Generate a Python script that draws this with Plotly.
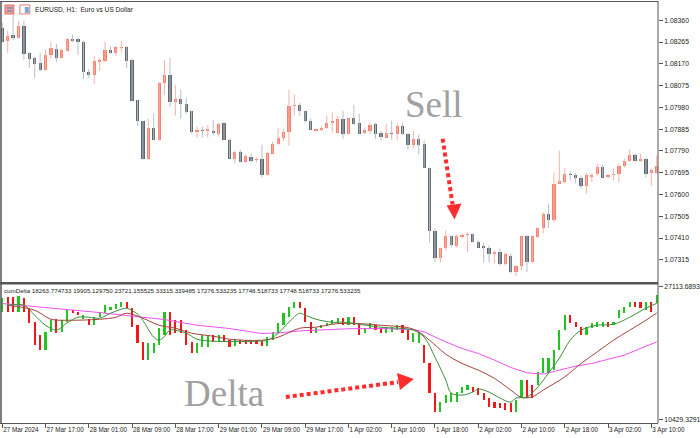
import plotly.graph_objects as go

# ---------------- data ----------------
price_open = [1.08326, 1.08270, 1.08296, 1.08283, 1.08335, 1.08218, 1.08196, 1.08174, 1.08144, 1.08209,
              1.08235, 1.08196, 1.08226, 1.08279, 1.08279, 1.08265, 1.08135, 1.08122, 1.08178, 1.08183,
              1.08231, 1.08218, 1.08239, 1.08244, 1.08187, 1.08013, 1.07922, 1.07757, 1.07891, 1.07839,
              1.08087, 1.08122, 1.08004, 1.08017, 1.07996, 1.07965, 1.07874, 1.07883, 1.07878, 1.07878,
              1.07865, 1.07913, 1.07839, 1.07757, 1.07787, 1.07743, 1.07765, 1.07751, 1.07757, 1.07683,
              1.07778, 1.07822, 1.07848, 1.07874, 1.07986, 1.07991, 1.07965, 1.07922, 1.07878, 1.07883,
              1.07891, 1.07913, 1.07870, 1.07931, 1.07865, 1.07935, 1.07913, 1.07870, 1.07878, 1.07909,
              1.07870, 1.07848, 1.07870, 1.07865, 1.07900, 1.07865, 1.07817, 1.07843, 1.07822, 1.07717,
              1.07443, 1.07322, 1.07365, 1.07417, 1.07374, 1.07414, 1.07422, 1.07426, 1.07391, 1.07374,
              1.07369, 1.07339, 1.07348, 1.07295, 1.07330, 1.07261, 1.07287, 1.07417, 1.07304, 1.07413,
              1.07452, 1.07517, 1.07487, 1.07648, 1.07656, 1.07691, 1.07687, 1.07674, 1.07635, 1.07678,
              1.07691, 1.07722, 1.07678, 1.07683, 1.07691, 1.07726, 1.07748, 1.07774, 1.07748, 1.07757,
              1.07696, 1.07696]
price_high = [1.08348, 1.08313, 1.08392, 1.08357, 1.08357, 1.08222, 1.08200, 1.08218, 1.08231, 1.08266,
              1.08257, 1.08235, 1.08283, 1.08296, 1.08283, 1.08270, 1.08148, 1.08205, 1.08196, 1.08266,
              1.08248, 1.08248, 1.08270, 1.08248, 1.08192, 1.08013, 1.07922, 1.07931, 1.07952, 1.08091,
              1.08187, 1.08196, 1.08078, 1.08057, 1.08022, 1.07965, 1.07896, 1.07896, 1.07904, 1.07926,
              1.07913, 1.07918, 1.07843, 1.07791, 1.07796, 1.07774, 1.07778, 1.07762, 1.07817, 1.07787,
              1.07830, 1.07887, 1.07887, 1.08057, 1.08035, 1.08000, 1.07965, 1.07931, 1.07887, 1.07900,
              1.07944, 1.07957, 1.07944, 1.07965, 1.07935, 1.07991, 1.07952, 1.07891, 1.07913, 1.07913,
              1.07878, 1.07909, 1.07922, 1.07913, 1.07913, 1.07870, 1.07878, 1.07861, 1.07835, 1.07717,
              1.07452, 1.07369, 1.07443, 1.07422, 1.07426, 1.07430, 1.07435, 1.07430, 1.07400, 1.07391,
              1.07378, 1.07356, 1.07365, 1.07348, 1.07343, 1.07291, 1.07422, 1.07422, 1.07422, 1.07456,
              1.07522, 1.07561, 1.07696, 1.07791, 1.07717, 1.07700, 1.07696, 1.07683, 1.07696, 1.07691,
              1.07735, 1.07730, 1.07691, 1.07713, 1.07735, 1.07757, 1.07796, 1.07778, 1.07778, 1.07761,
              1.07713, 1.07770]
price_low = [1.08261, 1.08218, 1.08274, 1.08279, 1.08187, 1.08152, 1.08109, 1.08139, 1.08139, 1.08192,
             1.08178, 1.08192, 1.08226, 1.08265, 1.08209, 1.08104, 1.08109, 1.08083, 1.08139, 1.08178,
             1.08213, 1.08205, 1.08218, 1.08152, 1.08004, 1.07900, 1.07752, 1.07752, 1.07835, 1.07835,
             1.08035, 1.07983, 1.07944, 1.07931, 1.07952, 1.07865, 1.07848, 1.07848, 1.07848, 1.07857,
             1.07852, 1.07839, 1.07757, 1.07735, 1.07739, 1.07739, 1.07739, 1.07740, 1.07674, 1.07683,
             1.07778, 1.07817, 1.07835, 1.07813, 1.07944, 1.07944, 1.07913, 1.07878, 1.07874, 1.07878,
             1.07887, 1.07870, 1.07865, 1.07843, 1.07865, 1.07904, 1.07865, 1.07865, 1.07865, 1.07843,
             1.07835, 1.07848, 1.07839, 1.07835, 1.07861, 1.07796, 1.07800, 1.07774, 1.07717, 1.07391,
             1.07304, 1.07304, 1.07356, 1.07369, 1.07369, 1.07409, 1.07348, 1.07391, 1.07369, 1.07304,
             1.07304, 1.07300, 1.07291, 1.07291, 1.07256, 1.07243, 1.07269, 1.07261, 1.07304, 1.07409,
             1.07430, 1.07452, 1.07478, 1.07648, 1.07648, 1.07661, 1.07648, 1.07626, 1.07604, 1.07656,
             1.07683, 1.07674, 1.07670, 1.07661, 1.07652, 1.07717, 1.07743, 1.07743, 1.07743, 1.07674,
             1.07639, 1.07691]
price_close = [1.08265, 1.08292, 1.08283, 1.08335, 1.08213, 1.08192, 1.08170, 1.08144, 1.08209, 1.08239,
               1.08196, 1.08231, 1.08279, 1.08270, 1.08265, 1.08135, 1.08122, 1.08183, 1.08187, 1.08231,
               1.08218, 1.08244, 1.08244, 1.08183, 1.08009, 1.07922, 1.07757, 1.07891, 1.07839, 1.08087,
               1.08122, 1.08004, 1.08017, 1.07996, 1.07961, 1.07874, 1.07883, 1.07878, 1.07887, 1.07870,
               1.07909, 1.07839, 1.07757, 1.07787, 1.07743, 1.07770, 1.07748, 1.07755, 1.07683, 1.07783,
               1.07822, 1.07848, 1.07874, 1.07987, 1.07991, 1.07965, 1.07922, 1.07883, 1.07885, 1.07891,
               1.07913, 1.07922, 1.07931, 1.07865, 1.07935, 1.07909, 1.07865, 1.07883, 1.07904, 1.07865,
               1.07852, 1.07870, 1.07865, 1.07900, 1.07865, 1.07817, 1.07843, 1.07817, 1.07717, 1.07443,
               1.07322, 1.07365, 1.07417, 1.07378, 1.07417, 1.07422, 1.07426, 1.07391, 1.07369, 1.07368,
               1.07339, 1.07348, 1.07295, 1.07339, 1.07261, 1.07287, 1.07417, 1.07304, 1.07417, 1.07452,
               1.07517, 1.07487, 1.07648, 1.07661, 1.07691, 1.07687, 1.07674, 1.07635, 1.07683, 1.07687,
               1.07722, 1.07674, 1.07687, 1.07691, 1.07726, 1.07748, 1.07774, 1.07748, 1.07757, 1.07691,
               1.07709, 1.07726]

delta_open = [23926, 25801, 25801, 23926, 25676, 24426, 22676, 21051, 19176, 21426,
              23051, 21426, 22676, 24176, 23926, 23051, 23051, 22301, 23301, 23801,
              24176, 24301, 24551, 25176, 24426, 22301, 20176, 17926, 18801, 19801,
              21051, 23926, 22926, 22926, 21676, 20176, 18801, 19551, 19551, 21051,
              20176, 21051, 20426, 19676, 20426, 20426, 20301, 20426, 20301, 19676,
              20426, 21301, 22301, 23301, 24426, 25176, 24426, 22676, 21301, 21926,
              22176, 22426, 22551, 23176, 22301, 23301, 22551, 21301, 21926, 22301,
              21926, 21301, 21426, 21676, 22301, 21676, 20176, 20051, 19801, 17551,
              13801, 11426, 12551, 12676, 12676, 13801, 14176, 14551, 14426, 13801,
              13176, 12676, 12551, 12551, 12551, 11426, 13176, 15426, 14801, 14801,
              16301, 16301, 16676, 19176, 21676, 23551, 22676, 22051, 21051, 21926,
              22051, 22051, 22676, 22301, 23176, 23801, 24551, 25176, 25176, 24176,
              25176, 25051]
delta_close = [25676, 23926, 23926, 25926, 23926, 22551, 19801, 19176, 21426, 22926,
               21301, 22926, 24176, 23801, 23551, 23551, 22301, 23301, 23926, 24801,
               24551, 24926, 25176, 24426, 22051, 20051, 17926, 20051, 20051, 21926,
               23926, 21051, 21301, 21301, 19801, 18801, 20051, 21051, 21051, 20176,
               21051, 20176, 19551, 20551, 19926, 19926, 19926, 19926, 19676, 20801,
               21426, 22551, 23801, 24551, 25176, 24426, 22676, 21301, 21926, 22301,
               22551, 22926, 23176, 22301, 23301, 22301, 21051, 21926, 22551, 21676,
               21301, 22051, 22051, 22301, 21301, 20426, 21301, 21301, 17551, 13801,
               11426, 12676, 13551, 13801, 13926, 14551, 14801, 13926, 13551, 12926,
               12051, 11926, 11926, 11676, 11426, 12926, 15426, 13176, 13176, 16426,
               18176, 18176, 19176, 21676, 23551, 22551, 22051, 21051, 22051, 22551,
               22676, 22676, 22051, 22676, 24176, 24551, 25176, 24551, 24426, 25176,
               23926, 26051]

fast_ma_bar = [1, 4, 6, 8, 10, 12, 14, 16, 18, 20, 22, 23, 25, 26, 28, 29, 30, 31, 34, 36, 39, 47, 49,
               51, 53, 55, 56, 58, 61, 63, 70, 76, 78, 80, 82, 83, 85, 87, 88, 90, 92, 94, 95, 97, 99,
               101, 103, 105, 107, 110, 113, 116, 119, 121]
fast_ma_val = [24801, 24801, 23540, 22300, 21700, 22600, 23301, 23301, 23176, 23801, 24301, 24426, 23700,
               22900, 20801, 20426, 20900, 21676, 21301, 20551, 20301, 20301, 20426, 21301, 22676, 23801,
               23551, 23051, 22676, 22676, 22051, 21676, 20801, 18301, 15426, 13801, 13551, 13926, 14301,
               13926, 13176, 12676, 13176, 13301, 14551, 16301, 18176, 20426, 21676, 22301, 22426, 23301,
               24426, 25051]
mid_ma_bar = [1, 6, 9, 12, 18, 21, 23, 26, 29, 32, 35, 39, 42, 48, 51, 55, 58, 61, 64, 70, 76, 79, 82,
              85, 88, 91, 94, 96, 98, 100, 104, 107, 110, 113, 116, 119, 121]
mid_ma_val = [24801, 24176, 23051, 22926, 23051, 23301, 23801, 23176, 22301, 21926, 21301, 20926, 20551,
              20426, 20801, 21926, 22051, 22426, 22551, 22301, 21801, 20426, 18676, 17513, 16676, 15638,
              14176, 13263, 13338, 14176, 15838, 17513, 18963, 20426, 21676, 22926, 23838]
slow_ma_bar = [0, 6, 12, 18, 24, 30, 36, 39, 42, 48, 51, 55, 61, 64, 70, 76, 78, 82, 85, 88, 91, 94, 97,
               100, 103, 106, 109, 112, 115, 118, 121]
slow_ma_val = [25013, 24676, 24263, 23888, 23426, 23013, 22301, 22138, 21888, 21263, 21338, 21588, 21763,
               21863, 21888, 21763, 21463, 20213, 19388, 18763, 17926, 17013, 16338, 16176, 16676, 17176,
               17513, 18013, 18551, 19388, 20213]

time_label_bars = [0, 8, 16, 24, 32, 40, 48, 56, 64, 72, 80, 88, 96, 104, 112, 120]
time_labels = ["27 Mar 2024", "27 Mar 17:00", "28 Mar 01:00", "28 Mar 09:00", "28 Mar 17:00",
               "29 Mar 01:00", "29 Mar 09:00", "29 Mar 17:00", "1 Apr 02:00", "1 Apr 10:00",
               "1 Apr 18:00", "2 Apr 02:00", "2 Apr 10:00", "2 Apr 18:00", "3 Apr 02:00", "3 Apr 10:00"]
price_ticks = [1.08360, 1.08265, 1.08170, 1.08075, 1.07980, 1.07885, 1.07790, 1.07695, 1.07600,
               1.07505, 1.07410, 1.07315]
delta_ticks = [27113.6893, 10429.3291]
delta_header = ("cumDelta 18263.774733 19905.129750 23721.155525 33315.339485 "
                "17276.533235 17748.518733 17748.518733 17276.533235")

# ---------------- geometry ----------------
W, H = 700, 438
MR, MB = 37, 15
PW, PH = W - MR, H - MB


def px(x):
    return x / PW


def py(y):
    return 1 - y / PH


BULL, BEAR = "#F8806E", "#5E6670"
BULL_W, BEAR_W = "#F6B3AA", "#B9BEC4"
DUP, DDN = "#22C422", "#F01818"
AXC = "#555555"

n = len(price_open)
bars = list(range(n))
is_bull = [c >= o for o, c in zip(price_open, price_close)]

fig = go.Figure()

# wicks
for flag, col in ((True, BULL_W), (False, BEAR_W)):
    wx, wy = [], []
    for i in bars:
        if is_bull[i] == flag:
            wx += [i, i, None]
            wy += [price_low[i], price_high[i], None]
    fig.add_trace(go.Scatter(x=wx, y=wy, mode="lines", line=dict(color=col, width=1),
                             xaxis="x", yaxis="y", hoverinfo="skip"))

# bodies
fig.add_trace(go.Bar(
    x=bars,
    y=[max(abs(c - o), 0.00003) for o, c in zip(price_open, price_close)],
    base=[min(o, c) for o, c in zip(price_open, price_close)],
    width=0.6,
    marker=dict(color=[BULL if b else BEAR for b in is_bull], line=dict(width=0)),
    xaxis="x", yaxis="y", hoverinfo="skip"))

# delta bars
d_up = [c >= o for o, c in zip(delta_open, delta_close)]
fig.add_trace(go.Bar(
    x=bars,
    y=[max(abs(c - o), 150) for o, c in zip(delta_open, delta_close)],
    base=[min(o, c) for o, c in zip(delta_open, delta_close)],
    width=0.4,
    marker=dict(color=[DUP if u else DDN for u in d_up], line=dict(width=0)),
    xaxis="x2", yaxis="y2", hoverinfo="skip"))

fig.add_trace(go.Scatter(x=slow_ma_bar, y=slow_ma_val, mode="lines",
                         line=dict(color="#F050F0", width=1), xaxis="x2", yaxis="y2"))
fig.add_trace(go.Scatter(x=mid_ma_bar, y=mid_ma_val, mode="lines",
                         line=dict(color="#A8403C", width=1, shape="spline"), xaxis="x2", yaxis="y2"))
fig.add_trace(go.Scatter(x=fast_ma_bar, y=fast_ma_val, mode="lines",
                         line=dict(color="#3E8E3E", width=1, shape="spline"), xaxis="x2", yaxis="y2"))

xr = [-0.42, -0.42 + PW / 5.45]
top_dom = [1 - 281 / PH, 1]
bot_dom = [0, (PH - 284) / PH]

fig.update_layout(
    width=W, height=H,
    margin=dict(l=0, r=MR, t=0, b=MB),
    paper_bgcolor="white", plot_bgcolor="white",
    showlegend=False, barmode="overlay", bargap=0,
    font=dict(family="Liberation Sans, Arial, sans-serif", color="#222"),
    xaxis=dict(domain=[0, 1], range=xr, anchor="y", showticklabels=False, showgrid=False,
               zeroline=False, showline=False, ticks=""),
    xaxis2=dict(domain=[0, 1], range=xr, anchor="y2", matches="x", showgrid=False, zeroline=False,
                tickmode="array", tickvals=time_label_bars, ticktext=time_labels, tickangle=0,
                ticks="outside", ticklen=4, tickcolor=AXC, ticklabelposition="outside right",
                tickfont=dict(size=6.3, color="#222"), showline=True, linecolor=AXC, linewidth=1),
    yaxis=dict(domain=top_dom, range=[1.084438 - 0.0000435 * 281, 1.084438], side="right",
               anchor="x", showgrid=False, zeroline=False, tickmode="array",
               tickvals=price_ticks, ticktext=["%.5f" % v for v in price_ticks],
               ticks="outside", ticklen=4, tickcolor=AXC, tickfont=dict(size=6.8, color="#222"),
               showline=False),
    yaxis2=dict(domain=bot_dom, range=[62926 - 125 * 423, 62926 - 125 * 284], side="right",
                anchor="x2", showgrid=False, zeroline=False, tickmode="array",
                tickvals=delta_ticks, ticktext=["%.4f" % v for v in delta_ticks],
                ticks="outside", ticklen=4, tickcolor=AXC, tickfont=dict(size=6.8, color="#222"),
                showline=False),
)

shapes = [
    dict(type="line", xref="paper", yref="paper", x0=px(1), x1=px(1), y0=py(0), y1=py(423),
         line=dict(color=AXC, width=1.5)),
    dict(type="line", xref="paper", yref="paper", x0=0, x1=px(663), y0=py(0.5), y1=py(0.5),
         line=dict(color=AXC, width=1)),
    dict(type="line", xref="paper", yref="paper", x0=0, x1=px(663), y0=py(283), y1=py(283),
         line=dict(color=AXC, width=2.5)),
    dict(type="line", xref="paper", yref="paper", x0=px(663), x1=px(663), y0=py(0), y1=py(423),
         line=dict(color=AXC, width=1)),
    # sell arrow
    dict(type="line", xref="paper", yref="paper", x0=px(446), y0=py(138), x1=px(456), y1=py(204),
         line=dict(color="#FF2D2D", width=4, dash="4px,3px")),
    dict(type="path", xref="paper", yref="paper",
         path="M %f %f L %f %f L %f %f Z" % (px(450), py(205), px(465), py(203), px(458), py(219)),
         fillcolor="#FF2D2D", line=dict(width=0)),
    # delta arrow
    dict(type="line", xref="paper", yref="paper", x0=px(288), y0=py(397), x1=px(401), y1=py(382),
         line=dict(color="#FF2D2D", width=4, dash="4px,3px")),
    dict(type="path", xref="paper", yref="paper",
         path="M %f %f L %f %f L %f %f Z" % (px(400), py(373), px(403), py(390), px(417), py(379)),
         fillcolor="#FF2D2D", line=dict(width=0)),
    # icons
    dict(type="rect", xref="paper", yref="paper", x0=px(5), x1=px(14), y0=py(4), y1=py(13),
         fillcolor="#F3A49A", line=dict(color="#E05A4A", width=0.8)),
    dict(type="rect", xref="paper", yref="paper", x0=px(20), x1=px(30), y0=py(4), y1=py(13),
         fillcolor="#FFFFFF", line=dict(color="#E05A4A", width=0.8)),
    dict(type="line", xref="paper", yref="paper", x0=px(7), x1=px(13), y0=py(7), y1=py(7),
         line=dict(color="#3B78C8", width=1)),
    dict(type="line", xref="paper", yref="paper", x0=px(7), x1=px(13), y0=py(10), y1=py(10),
         line=dict(color="#3B78C8", width=1)),
    dict(type="rect", xref="paper", yref="paper", x0=px(25), x1=px(29), y0=py(6), y1=py(12),
         fillcolor="#6FA8DC", line=dict(width=0)),
]
fig.update_layout(shapes=shapes)

ann = [
    dict(text="EURUSD, H1:\u00a0 Euro vs US Dollar", x=px(33), y=py(9), xref="paper", yref="paper",
         xanchor="left", yanchor="middle", showarrow=False, font=dict(size=6.6, color="#222")),
    dict(text=delta_header, x=px(2), y=py(290), xref="paper", yref="paper",
         xanchor="left", yanchor="middle", showarrow=False, font=dict(size=6.2, color="#222")),
    dict(text="Sell", x=px(406), y=py(104), xref="paper", yref="paper", xanchor="left",
         yanchor="middle", showarrow=False,
         font=dict(size=37, color="#A0A0A0", family="Liberation Serif, DejaVu Serif, serif")),
    dict(text="Delta", x=px(183), y=py(393), xref="paper", yref="paper", xanchor="left",
         yanchor="middle", showarrow=False,
         font=dict(size=37, color="#A0A0A0", family="Liberation Serif, DejaVu Serif, serif")),
]
fig.update_layout(annotations=ann)

fig.write_html("out.html", config={"displayModeBar": False, "staticPlot": True},
               post_script="document.body.style.margin='0';document.body.style.padding='0';")
